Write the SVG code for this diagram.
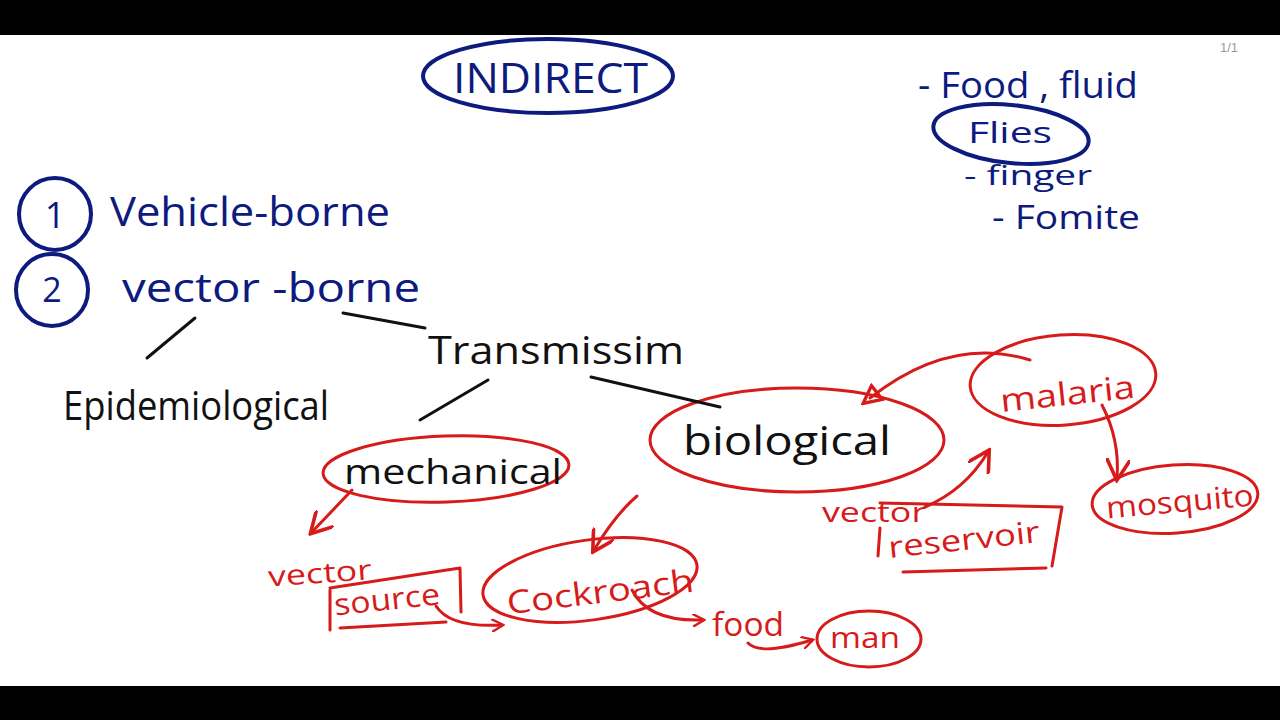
<svg xmlns="http://www.w3.org/2000/svg" width="1280" height="720" viewBox="0 0 1280 720">
<defs>
<style>
.bar{fill:#000}
.nv{fill:#0d1a7e;font-family:"Open Sans","Liberation Sans",sans-serif}
.bk{fill:#111;font-family:"Open Sans","Liberation Sans",sans-serif}
.rd{fill:#d71a1a;font-family:"Open Sans","Liberation Sans",sans-serif}
.nvs{fill:none;stroke:#0d1a7e;stroke-width:4;stroke-linecap:round}
.bks{fill:none;stroke:#111;stroke-width:3;stroke-linecap:round}
.rds{fill:none;stroke:#d71a1a;stroke-width:3;stroke-linecap:round;stroke-linejoin:round}
</style>
<marker id="ah" viewBox="0 0 10 10" refX="8" refY="5" markerWidth="13" markerHeight="13" orient="auto" markerUnits="userSpaceOnUse">
<path d="M0,0 L9,5 L0,10" fill="none" stroke="#d71a1a" stroke-width="1.8"/>
</marker>
<marker id="ahb" viewBox="0 0 10 10" refX="8" refY="5" markerWidth="24" markerHeight="24" orient="auto" markerUnits="userSpaceOnUse">
<path d="M0,0 L9,5 L0,10" fill="none" stroke="#d71a1a" stroke-width="1.5"/>
</marker>
<marker id="tri" viewBox="0 0 10 10" refX="5" refY="5" markerWidth="22" markerHeight="22" orient="auto" markerUnits="userSpaceOnUse">
<path d="M1,1 L9,5 L1,9 Z" fill="none" stroke="#d71a1a" stroke-width="1.5"/>
</marker>
</defs>
<rect width="1280" height="720" fill="#fff"/>
<rect class="bar" x="0" y="0" width="1280" height="35"/>
<rect class="bar" x="0" y="686" width="1280" height="34"/>
<text x="1229" y="52" font-family="'Liberation Sans',sans-serif" font-size="13" fill="#999" text-anchor="middle">1/1</text>

<g id="indirect">
<ellipse class="nvs" cx="548" cy="76" rx="125" ry="37"/>
<text class="nv" x="453" y="93" font-size="42" textLength="195" lengthAdjust="spacingAndGlyphs">INDIRECT</text>
</g>
<g id="food-fluid">
<text class="nv" x="918" y="98" font-size="36" textLength="220" lengthAdjust="spacingAndGlyphs">- Food , fluid</text>
</g>
<g id="flies">
<ellipse class="nvs" cx="1011" cy="134" rx="78" ry="29" transform="rotate(6 1011 134)"/>
<text class="nv" x="968" y="143" font-size="30" textLength="84" lengthAdjust="spacingAndGlyphs">Flies</text>
</g>
<g id="finger">
<text class="nv" x="964" y="185" font-size="28" textLength="128" lengthAdjust="spacingAndGlyphs">- finger</text>
</g>
<g id="fomite">
<text class="nv" x="992" y="229" font-size="32" textLength="148" lengthAdjust="spacingAndGlyphs">- Fomite</text>
</g>

<g id="vehicle-borne">
<circle class="nvs" cx="55" cy="214" r="36"/>
<text class="nv" x="55" y="228" font-size="36" text-anchor="middle">1</text>
<text class="nv" x="110" y="226" font-size="40" textLength="280" lengthAdjust="spacingAndGlyphs">Vehicle-borne</text>
</g>
<g id="vector-borne">
<circle class="nvs" cx="52" cy="290" r="36"/>
<text class="nv" x="52" y="302" font-size="34" text-anchor="middle">2</text>
<text class="nv" x="122" y="302" font-size="40" textLength="298" lengthAdjust="spacingAndGlyphs">vector -borne</text>
</g>
<g id="epidemiological">
<text class="bk" x="63" y="420" font-size="40" textLength="266" lengthAdjust="spacingAndGlyphs">Epidemiological</text>
</g>
<g id="transmission">
<text class="bk" x="428" y="364" font-size="38" textLength="256" lengthAdjust="spacingAndGlyphs">Transmissim</text>
</g>
<g id="mechanical">
<ellipse class="rds" cx="446" cy="469" rx="123" ry="33" transform="rotate(-2 446 469)"/>
<text class="bk" x="344" y="484" font-size="34" textLength="218" lengthAdjust="spacingAndGlyphs">mechanical</text>
</g>
<g id="biological">
<ellipse class="rds" cx="797" cy="440" rx="147" ry="52"/>
<text class="bk" x="683" y="455" font-size="40" textLength="208" lengthAdjust="spacingAndGlyphs">biological</text>
</g>
<g id="malaria">
<ellipse class="rds" cx="1063" cy="380" rx="93" ry="45" transform="rotate(-4 1063 380)"/>
<text class="rd" x="1000" y="405" font-size="32" textLength="135" lengthAdjust="spacingAndGlyphs" transform="rotate(-6 1067 395)">malaria</text>
</g>
<g id="mosquito">
<ellipse class="rds" cx="1175" cy="499" rx="83" ry="34" transform="rotate(-4 1175 499)"/>
<text class="rd" x="1106" y="512" font-size="30" textLength="148" lengthAdjust="spacingAndGlyphs" transform="rotate(-5 1180 505)">mosquito</text>
</g>
<g id="vector-reservoir">
<path class="rds" d="M880,503 L1062,507 L1052,566 M903,572 L1046,568 M880,528 L878,556"/>
<text class="rd" x="822" y="522" font-size="28" textLength="104" lengthAdjust="spacingAndGlyphs">vector</text>
<text class="rd" x="888" y="550" font-size="30" textLength="152" lengthAdjust="spacingAndGlyphs" transform="rotate(-6 964 540)">reservoir</text>
</g>
<g id="vector-source">
<path class="rds" d="M330,588 L460,568 L461,612 M340,628 L446,622 M330,590 L330,630"/>
<text class="rd" x="268" y="583" font-size="28" textLength="104" lengthAdjust="spacingAndGlyphs" transform="rotate(-4 320 575)">vector</text>
<text class="rd" x="334" y="610" font-size="30" textLength="106" lengthAdjust="spacingAndGlyphs" transform="rotate(-6 386 600)">source</text>
</g>
<g id="cockroach">
<ellipse class="rds" cx="590" cy="580" rx="108" ry="40" transform="rotate(-8 590 580)"/>
<text class="rd" x="506" y="603" font-size="32" textLength="188" lengthAdjust="spacingAndGlyphs" transform="rotate(-7 600 590)">Cockroach</text>
</g>
<g id="food">
<text class="rd" x="712" y="636" font-size="32" textLength="72" lengthAdjust="spacingAndGlyphs">food</text>
</g>
<g id="man">
<ellipse class="rds" cx="869" cy="639" rx="52" ry="28"/>
<text class="rd" x="830" y="648" font-size="30" textLength="70" lengthAdjust="spacingAndGlyphs">man</text>
</g>

<g id="connectors">
<path class="bks" d="M195,318 L147,358"/>
<path class="bks" d="M343,313 L425,328"/>
<path class="bks" d="M488,380 L420,420"/>
<path class="bks" d="M591,377 L720,407"/>
<path class="rds" d="M352,490 L312,532" marker-end="url(#ahb)"/>
<path class="rds" d="M436,606 Q450,628 502,625" marker-end="url(#ah)" stroke-width="4"/>
<path class="rds" d="M637,496 Q615,515 594,550" marker-end="url(#ahb)"/>
<path class="rds" d="M632,590 Q648,622 703,620" marker-end="url(#ah)"/>
<path class="rds" d="M748,643 Q760,656 812,640" marker-end="url(#ah)"/>
<path class="rds" d="M1030,360 Q950,335 870,398" marker-end="url(#tri)"/>
<path class="rds" d="M1102,405 Q1120,440 1117,478" marker-end="url(#ahb)" stroke-width="4"/>
<path class="rds" d="M925,507 Q965,490 988,452" marker-end="url(#ahb)" stroke-width="4"/>
</g>
</svg>
